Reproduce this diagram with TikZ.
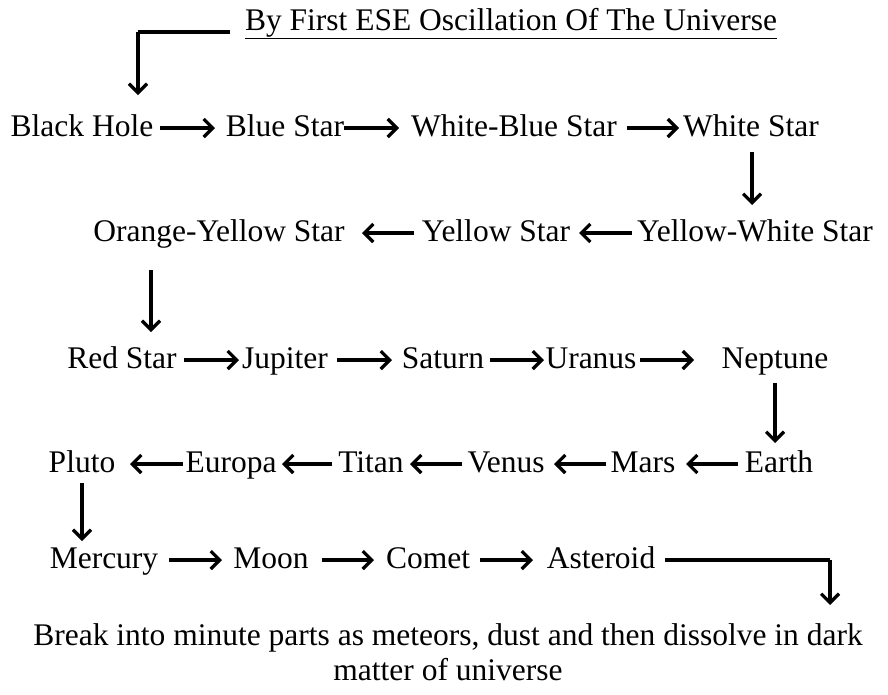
\documentclass[tikz,border=0pt]{standalone}
\usepackage{fontspec}
\setmainfont{Liberation Serif}
\usetikzlibrary{arrows.meta}
\begin{document}
\begin{tikzpicture}[x=1pt,y=-1pt,
  lbl/.style={font=\fontsize{31.5}{36}\selectfont, inner sep=2pt, text height=0.68em, text depth=0.2em, yshift=-6pt},
  arr/.style={line width=3.2pt,-{Straight Barb[length=9pt,width=18pt,line width=3.2pt]}}]
\useasboundingbox[fill=white] (0,0) rectangle (888,694);
\node[lbl] (t) at (511,22) {\underline{By First ESE Oscillation Of The Universe}};
\node[lbl] (bh) at (82,128) {Black Hole};
\node[lbl] (bs) at (285,128) {Blue Star};
\node[lbl] (wbs) at (514,128) {White-Blue Star};
\node[lbl] (ws) at (751,128) {White Star};
\node[lbl] (oys) at (219,233) {Orange-Yellow Star};
\node[lbl] (ys) at (496,233) {Yellow Star};
\node[lbl] (yws) at (755,233) {Yellow-White Star};
\node[lbl] (rs) at (122,360) {Red Star};
\node[lbl] (ju) at (285,360) {Jupiter};
\node[lbl] (sa) at (443,360) {Saturn};
\node[lbl] (ur) at (591,360) {Uranus};
\node[lbl] (ne) at (775,360) {Neptune};
\node[lbl] (pl) at (82,464) {Pluto};
\node[lbl] (eu) at (231,464) {Europa};
\node[lbl] (ti) at (371,464) {Titan};
\node[lbl] (ve) at (506,464) {Venus};
\node[lbl] (ma) at (643,464) {Mars};
\node[lbl] (ea) at (779,464) {Earth};
\node[lbl] (me) at (104,560) {Mercury};
\node[lbl] (mo) at (271,560) {Moon};
\node[lbl] (co) at (428,560) {Comet};
\node[lbl] (as) at (601,560) {Asteroid};
\node[font=\fontsize{31.5}{35}\selectfont, align=center, inner sep=0pt] (br) at (448,652) {Break into minute parts as meteors, dust and then dissolve in dark\\matter of universe};
\coordinate (c1) at (138,32);
\coordinate (c2) at (830,560);
\draw[line width=3.2pt] (230,32) -- (c1);
\draw[arr] (c1) -- (138,95);
\draw[arr] (160,128) -- (215,128);
\draw[arr] (344,128) -- (399,128);
\draw[arr] (627,128) -- (679,128);
\draw[arr] (752,152) -- (752,205);
\draw[arr] (632,233) -- (579,233);
\draw[arr] (414,233) -- (362,233);
\draw[arr] (151,270) -- (151,332);
\draw[arr] (184,360) -- (239,360);
\draw[arr] (337,360) -- (392,360);
\draw[arr] (490,360) -- (544,360);
\draw[arr] (640,360) -- (694,360);
\draw[arr] (775,383) -- (775,443);
\draw[arr] (738,464) -- (686,464);
\draw[arr] (606,464) -- (554,464);
\draw[arr] (462,464) -- (410,464);
\draw[arr] (332,464) -- (282,464);
\draw[arr] (183,464) -- (130,464);
\draw[arr] (82,483) -- (82,541);
\draw[arr] (169,560) -- (222,560);
\draw[arr] (322,560) -- (374,560);
\draw[arr] (480,560) -- (533,560);
\draw[line width=3.2pt] (665,560) -- (c2);
\draw[arr] (c2) -- (830,605);
\end{tikzpicture}
\end{document}
